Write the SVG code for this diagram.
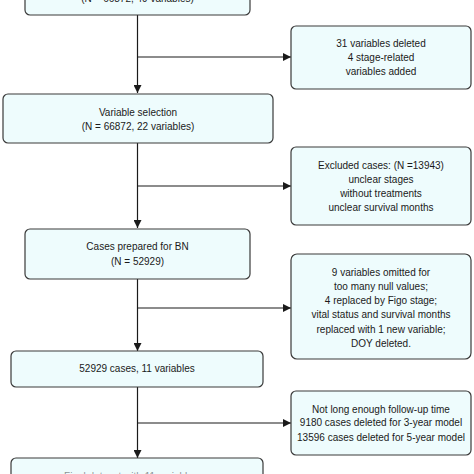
<svg xmlns="http://www.w3.org/2000/svg" width="474" height="474" viewBox="0 0 474 474">
<style>
.box{fill:#eefcfd;stroke:#3a3a3a;stroke-width:1.2}
.t{font-family:"Liberation Sans",Arial,sans-serif;font-size:10px;fill:#1a1a1a;text-anchor:middle}
.ln{stroke:#1a1a1a;stroke-width:1.2;fill:none}
</style>
<defs>
<marker id="ah" viewBox="0 0 10 10" refX="10" refY="5" markerWidth="8" markerHeight="8" markerUnits="userSpaceOnUse" orient="auto">
<path d="M0,0 L10,5 L0,10 Z" fill="#1a1a1a"/>
</marker>
</defs>
<rect width="474" height="474" fill="#ffffff"/>
<g id="connectors">
<line class="ln" x1="137.5" y1="15" x2="137.5" y2="93" marker-end="url(#ah)"/>
<line class="ln" x1="137.5" y1="57" x2="291" y2="57" marker-end="url(#ah)"/>
<line class="ln" x1="137.5" y1="143" x2="137.5" y2="228" marker-end="url(#ah)"/>
<line class="ln" x1="137.5" y1="186" x2="291" y2="186" marker-end="url(#ah)"/>
<line class="ln" x1="137.5" y1="279" x2="137.5" y2="351" marker-end="url(#ah)"/>
<line class="ln" x1="137.5" y1="308" x2="291" y2="308" marker-end="url(#ah)"/>
<line class="ln" x1="137.5" y1="387" x2="137.5" y2="458" marker-end="url(#ah)"/>
<line class="ln" x1="137.5" y1="423" x2="291" y2="423" marker-end="url(#ah)"/>
</g>
<g id="n1">
<rect class="box" x="25" y="-20" width="225" height="35" rx="5"/>
<text class="t" x="137.5" y="2">(N = 66872, 49 variables)</text>
</g>
<g id="s1">
<rect class="box" x="291" y="26" width="180" height="63" rx="5"/>
<text class="t" x="381" y="47">31 variables deleted</text>
<text class="t" x="381" y="61">4 stage-related</text>
<text class="t" x="381" y="75">variables added</text>
</g>
<g id="n2">
<rect class="box" x="3" y="94" width="270" height="49" rx="5"/>
<text class="t" x="138" y="116">Variable selection</text>
<text class="t" x="138" y="130">(N = 66872, 22 variables)</text>
</g>
<g id="s2">
<rect class="box" x="291" y="147" width="180" height="78" rx="5"/>
<text class="t" x="381" y="169">Excluded cases: (N =13943)</text>
<text class="t" x="381" y="183">unclear stages</text>
<text class="t" x="381" y="197">without treatments</text>
<text class="t" x="381" y="211">unclear survival months</text>
</g>
<g id="n3">
<rect class="box" x="25" y="229" width="225" height="50" rx="5"/>
<text class="t" x="137.5" y="250">Cases prepared for BN</text>
<text class="t" x="137.5" y="265">(N = 52929)</text>
</g>
<g id="s3">
<rect class="box" x="291" y="254" width="180" height="105" rx="6"/>
<text class="t" x="381" y="276">9 variables omitted for</text>
<text class="t" x="381" y="290">too many null values;</text>
<text class="t" x="381" y="304">4 replaced by Figo stage;</text>
<text class="t" x="381" y="318">vital status and survival months</text>
<text class="t" x="381" y="333">replaced with 1 new variable;</text>
<text class="t" x="381" y="347">DOY deleted.</text>
</g>
<g id="n4">
<rect class="box" x="11" y="351" width="252" height="36" rx="5"/>
<text class="t" x="137" y="372">52929 cases, 11 variables</text>
</g>
<g id="s4">
<rect class="box" x="291" y="391" width="180" height="64" rx="5"/>
<text class="t" x="381" y="413">Not long enough follow-up time</text>
<text class="t" x="381" y="426">9180 cases deleted for 3-year model</text>
<text class="t" x="381" y="441">13596 cases deleted for 5-year model</text>
</g>
<g id="n5">
<rect class="box" x="11" y="458" width="252" height="40" rx="5"/>
<text class="t" x="131" y="480" fill-opacity="0.5">Final dataset with 11 variables</text>
</g>
</svg>
